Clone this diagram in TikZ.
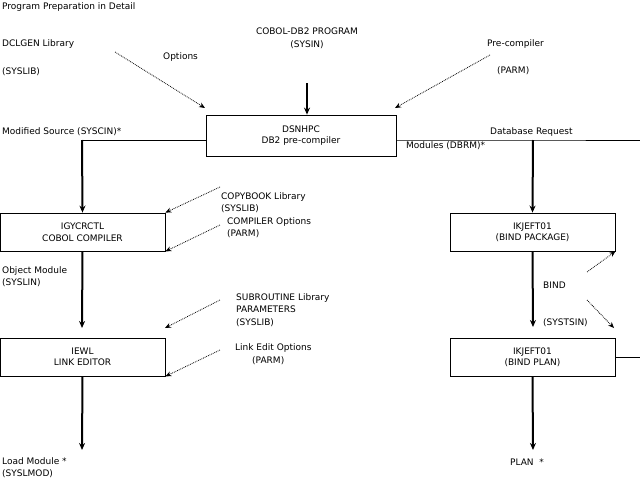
\documentclass[tikz,border=0pt]{standalone}
\usepackage{fontspec}
\setmainfont{DejaVu Sans}
\usetikzlibrary{arrows.meta}
\begin{document}
\begin{tikzpicture}[x=1pt,y=-1pt,
  lbl/.style={anchor=west,inner sep=0pt,font=\fontsize{9}{10}\selectfont},
  box/.style={draw,thick,minimum width=165pt,minimum height=38pt,align=center,inner sep=0pt,font=\fontsize{9}{11.5}\selectfont},
  thin/.style={-{Stealth[length=6pt,width=5pt]},densely dotted,line width=0.8pt},
  plain/.style={line width=0.5pt},
  thick2/.style={-{Stealth[length=7pt,width=6pt]},line width=2pt}]
\useasboundingbox (0,0) rectangle (640,480);
\node[lbl] (title) at (2,7) {Program Preparation in Detail};
\node[lbl] (dcl) at (2,44) {DCLGEN Library};
\node[lbl] (dcls) at (2,72) {(SYSLIB)};
\node[lbl] (opt) at (163,57) {Options};
\node[align=center,inner sep=0pt,font=\fontsize{9}{13}\selectfont] (cob) at (307,38) {COBOL-DB2 PROGRAM\\(SYSIN)};
\node[lbl] (pre) at (487,44) {Pre-compiler};
\node[lbl] (parm) at (497,71) {(PARM)};
\node[box,minimum width=190pt,minimum height=41pt] (dsn) at (301,135.5) {DSNHPC\\DB2 pre-compiler};
\coordinate (a1) at (115,52);
\coordinate (a2) at (490,55);
\coordinate (c0) at (307,83);
\draw[thin] (a1) -- (205,108);
\draw[thin] (a2) -- (395,108);
\draw[thick2] (c0) -- (c0 |- dsn.north);
\node[lbl] (mod) at (2,132) {Modified Source (SYSCIN)*};
\node[lbl] (dbr) at (490,132) {Database Request};
\node[lbl] (dbm) at (406,146) {Modules (DBRM)*};
\node[box] (igy) at (82.5,232) {IGYCRCTL\\COBOL COMPILER};
\node[box] (ik1) at (532.5,232) {IKJEFT01\\(BIND PACKAGE)};
\coordinate (l1) at (82,140);
\coordinate (r1) at (533,140);
\coordinate (r2) at (640,140);
\draw[plain] (dsn.west |- l1) -- (l1);
\draw[thick2] (l1) -- (igy.north);
\draw[plain] (dsn.east |- r1) -- (r1) -- (r2);
\draw[thick2] (r1) -- (ik1.north);
\node[lbl,align=left,font=\fontsize{9}{12}\selectfont] (copy) at (221,203) {COPYBOOK Library\\(SYSLIB)};
\node[lbl,align=left,font=\fontsize{9}{12}\selectfont] (comp) at (227,228) {COMPILER Options\\(PARM)};
\coordinate (b1) at (220,187);
\coordinate (b2) at (220,225);
\draw[thin] (b1) -- (igy.north east);
\draw[thin] (b2) -- (igy.south east);
\node[lbl,align=left,font=\fontsize{9}{12}\selectfont] (obj) at (2,277) {Object Module\\(SYSLIN)};
\node[box] (iew) at (82.5,357) {IEWL\\LINK EDITOR};
\draw[thick2] (igy.south) -- (82,328);
\node[lbl,align=left,font=\fontsize{9}{12.5}\selectfont] (sub) at (236,310) {SUBROUTINE Library\\PARAMETERS\\(SYSLIB)};
\node[lbl] (lnk) at (235,348) {Link Edit Options};
\node[lbl] (lparm) at (252,361) {(PARM)};
\coordinate (d1) at (220,300);
\coordinate (d2) at (220,350);
\draw[thin] (d1) -- (165,328);
\draw[thin] (d2) -- (iew.south east);
\coordinate (e1) at (82,450);
\draw[thick2] (iew.south) -- (e1);
\node[lbl,align=left,font=\fontsize{9}{12}\selectfont] (load) at (2,468) {Load Module *\\(SYSLMOD)};
\node[box] (ik2) at (532.5,357) {IKJEFT01\\(BIND PLAN)};
\draw[thick2] (ik1.south) -- (533,327);
\node[lbl] (bind) at (543,285) {BIND};
\node[lbl] (tsin) at (543,323) {(SYSTSIN)};
\coordinate (f1) at (587,272);
\coordinate (f2) at (587,300);
\draw[thin] (f1) -- (ik1.south east);
\draw[thin] (f2) -- (614,328);
\draw[plain] (ik2.east) -- (640,357);
\coordinate (g1) at (533,450);
\draw[thick2] (ik2.south) -- (g1);
\node[lbl] (plan) at (510,462) {PLAN \ *};
\end{tikzpicture}
\end{document}
